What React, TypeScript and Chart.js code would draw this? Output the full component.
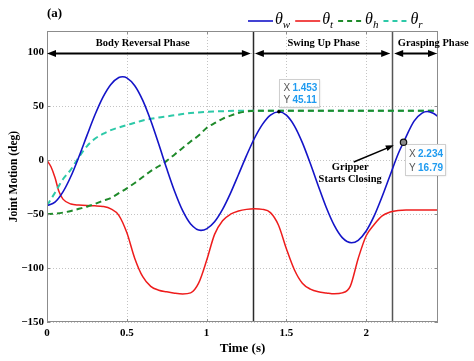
import { useEffect, useRef } from 'react';
import { Chart, registerables } from 'chart.js';

Chart.register(...registerables);

const SERIF = "'Liberation Serif', 'Times New Roman', serif";
const SANS = "'Liberation Sans', Arial, sans-serif";

// θw (blue)
const blueT = [0, 0.05, 0.1, 0.15, 0.2, 0.25, 0.3, 0.35, 0.4, 0.45, 0.474, 0.5, 0.55, 0.6, 0.65, 0.7, 0.75, 0.8, 0.85, 0.9, 0.965, 1.0, 1.05, 1.1, 1.15, 1.2, 1.25, 1.3, 1.35, 1.4, 1.453, 1.5, 1.55, 1.6, 1.65, 1.7, 1.75, 1.8, 1.85, 1.908, 1.95, 2.0, 2.05, 2.1, 2.15, 2.2, 2.234, 2.3, 2.35, 2.383, 2.42, 2.45];
const blueY = [-42, -38.8, -29.3, -14.8, 3.3, 22.9, 42, 58.4, 70.4, 76.8, 77.5, 76.5, 69.2, 55.6, 36.9, 15.1, -7.6, -28.9, -46.7, -59, -65, -63.6, -57, -45.5, -30.4, -13.1, 4.4, 20.5, 33.4, 42, 45.11, 41.9, 32, 16.4, -3, -23.8, -43.8, -60.4, -71.7, -76.5, -74.2, -65.6, -51.6, -33.6, -13.8, 5.9, 16.79, 36.4, 43.8, 45.3, 43.6, 40.6];

// θt (red)
const redT = [0, 0.025, 0.05, 0.075, 0.1, 0.15, 0.2, 0.25, 0.3, 0.35, 0.4, 0.45, 0.5, 0.55, 0.6, 0.65, 0.7, 0.75, 0.8, 0.85, 0.9, 0.95, 1.0, 1.05, 1.1, 1.15, 1.2, 1.25, 1.3, 1.35, 1.4, 1.45, 1.5, 1.55, 1.6, 1.65, 1.7, 1.75, 1.8, 1.85, 1.9, 1.95, 2.0, 2.05, 2.1, 2.15, 2.2, 2.25, 2.35, 2.45];
const redY = [0, -6, -16, -29, -36, -40.5, -41.5, -42, -42.2, -42.8, -45, -51, -67, -91, -108, -117, -120.5, -122, -123.3, -124, -123, -114, -93, -68.7, -56, -50, -47, -45.5, -45, -45.5, -48.5, -60, -82, -101.5, -114, -119.5, -122, -123, -123.8, -123, -117, -91, -70, -59.5, -51.5, -48, -46.5, -46, -46, -46];

// θh (green dashed)
const greenT = [0, 0.05, 0.1, 0.15, 0.2, 0.25, 0.3, 0.35, 0.4, 0.45, 0.5, 0.55, 0.6, 0.65, 0.7, 0.75, 0.8, 0.85, 0.9, 0.95, 1.0, 1.05, 1.1, 1.15, 1.2, 1.25, 1.3, 1.6, 2.0, 2.45];
const greenY = [-50, -49.5, -48.5, -47, -45, -43, -40.5, -37.5, -35, -30.5, -26, -21, -15.5, -10, -5.5, -0.5, 5.5, 11.5, 17.5, 23, 30, 34.5, 38.5, 41.5, 44, 45.3, 46, 46, 46, 46];

// θr (teal dashed)
const tealT = [0, 0.05, 0.1, 0.15, 0.2, 0.25, 0.3, 0.35, 0.4, 0.45, 0.5, 0.55, 0.6, 0.65, 0.7, 0.75, 0.8, 0.85, 0.9, 1.0, 1.1, 1.2, 1.6, 2.0, 2.45];
const tealY = [-42, -30, -17.5, -8.5, 3, 13, 20, 24.5, 28, 30.5, 32.7, 34.8, 37, 38.5, 39.8, 40.8, 41.8, 43, 43.9, 45, 45.6, 46, 46, 46, 46];

const seriesNames = ['w', 't', 'h', 'r'];
const seriesColors = ['#1414c8', '#ee1c1c', '#1f8a2a', '#2dc9a8'];

const xTicks = [0, 0.5, 1, 1.5, 2];
const yTicks = [-150, -100, -50, 0, 50, 100];

const phaseBounds = [0, 1.29, 2.163, 2.45];
const phaseLabels = ['Body Reversal Phase', 'Swing Up Phase', 'Grasping Phase'];
const phaseLabelX = [0.6, 1.733, 2.42];
const phaseArrowY = 100;

const tipX = [1.453, 2.234];
const tipY = [45.11, 16.79];

const gripperText = ['Gripper', 'Starts Closing'];
const gripperTextPos = [1.9, -6.5];
const gripperArrow = [1.922, -1.6, 2.173, 14];

const fmt = (v: number) => {
  const s = String(v);
  return v < 0 ? '\u2212' + s.slice(1) : s;
};

function arrowHead(ctx: CanvasRenderingContext2D, x: number, y: number, ang: number, len: number, half: number) {
  ctx.beginPath();
  ctx.moveTo(x, y);
  ctx.lineTo(x - len * Math.cos(ang) + half * Math.sin(ang), y - len * Math.sin(ang) - half * Math.cos(ang));
  ctx.lineTo(x - len * Math.cos(ang) - half * Math.sin(ang), y - len * Math.sin(ang) + half * Math.cos(ang));
  ctx.closePath();
  ctx.fill();
}

const annot = {
  id: 'annot',
  beforeDatasetsDraw(chart: any) {
    const { ctx, chartArea: a, scales } = chart;
    const x = scales.x;
    const y = scales.y;
    ctx.save();
    // dotted grid
    ctx.strokeStyle = '#c4c4c4';
    ctx.lineWidth = 1;
    ctx.setLineDash([1, 2]);
    ctx.beginPath();
    xTicks.forEach((v) => {
      const px = Math.round(x.getPixelForValue(v)) + 0.5;
      ctx.moveTo(px, a.top);
      ctx.lineTo(px, a.bottom);
    });
    yTicks.forEach((v) => {
      const py = Math.round(y.getPixelForValue(v)) + 0.5;
      ctx.moveTo(a.left, py);
      ctx.lineTo(a.right, py);
    });
    ctx.stroke();
    ctx.setLineDash([]);
    [1, 2].forEach((i, k) => {
      const px = Math.round(x.getPixelForValue(phaseBounds[i])) + 0.5;
      ctx.strokeStyle = k === 0 ? '#2a2a2a' : '#555';
      ctx.lineWidth = 1.5;
      ctx.beginPath();
      ctx.moveTo(px, a.top);
      ctx.lineTo(px, a.bottom);
      ctx.stroke();
    });
    ctx.restore();
  },
  afterDatasetsDraw(chart: any) {
    const { ctx, chartArea: a, scales } = chart;
    const x = scales.x;
    const y = scales.y;
    ctx.save();

    // frame
    ctx.strokeStyle = '#8c8c8c';
    ctx.lineWidth = 1;
    ctx.strokeRect(a.left + 0.5, a.top + 0.5, a.right - a.left - 1, a.bottom - a.top - 1);
    // inner ticks
    ctx.beginPath();
    xTicks.forEach((v) => {
      const px = Math.round(x.getPixelForValue(v)) + 0.5;
      ctx.moveTo(px, a.bottom);
      ctx.lineTo(px, a.bottom - 3);
      ctx.moveTo(px, a.top);
      ctx.lineTo(px, a.top + 3);
    });
    yTicks.forEach((v) => {
      const py = Math.round(y.getPixelForValue(v)) + 0.5;
      ctx.moveTo(a.left, py);
      ctx.lineTo(a.left + 3, py);
      ctx.moveTo(a.right, py);
      ctx.lineTo(a.right - 3, py);
    });
    ctx.stroke();

    // phase arrows
    const ay = Math.round(y.getPixelForValue(phaseArrowY)) + 0.5;
    ctx.strokeStyle = '#000';
    ctx.fillStyle = '#000';
    ctx.lineWidth = 1.8;
    for (let i = 0; i < 3; i++) {
      const x0 = x.getPixelForValue(phaseBounds[i]) + (i === 0 ? 0 : 2);
      const x1 = x.getPixelForValue(phaseBounds[i + 1]) - (i === 2 ? 1 : 2);
      ctx.beginPath();
      ctx.moveTo(x0 + 4, ay);
      ctx.lineTo(x1 - 4, ay);
      ctx.stroke();
      arrowHead(ctx, x0, ay, Math.PI, 9, 3.5);
      arrowHead(ctx, x1, ay, 0, 9, 3.5);
    }
    ctx.font = `bold 10.5px ${SERIF}`;
    ctx.textAlign = 'center';
    ctx.textBaseline = 'middle';
    phaseLabels.forEach((t, i) => {
      ctx.fillText(t, x.getPixelForValue(phaseLabelX[i]), ay - 10);
    });

    // gripper annotation
    const gx = x.getPixelForValue(gripperTextPos[0]);
    const gy = y.getPixelForValue(gripperTextPos[1]);
    ctx.fillText(gripperText[0], gx, gy);
    ctx.fillText(gripperText[1], gx, gy + 11.5);
    const ax0 = x.getPixelForValue(gripperArrow[0]);
    const ay0 = y.getPixelForValue(gripperArrow[1]);
    const ax1 = x.getPixelForValue(gripperArrow[2]);
    const ay1 = y.getPixelForValue(gripperArrow[3]);
    const ang = Math.atan2(ay1 - ay0, ax1 - ax0);
    ctx.lineWidth = 1.5;
    ctx.beginPath();
    ctx.moveTo(ax0, ay0);
    ctx.lineTo(ax1 - 6 * Math.cos(ang), ay1 - 6 * Math.sin(ang));
    ctx.stroke();
    arrowHead(ctx, ax1, ay1, ang, 8, 3);

    // datatips
    tipX.forEach((tx, i) => {
      const px = x.getPixelForValue(tx);
      const py = y.getPixelForValue(tipY[i]);
      const bx = px + (i === 0 ? 0.5 : 1.5);
      const by = i === 0 ? py - 33 : py + 2;
      const bw = 40;
      const bh = i === 0 ? 28 : 31;
      ctx.save();
      ctx.shadowColor = 'rgba(0,0,0,0.15)';
      ctx.shadowBlur = 2;
      ctx.shadowOffsetX = 1;
      ctx.shadowOffsetY = 1;
      ctx.fillStyle = 'rgba(255,255,255,0.95)';
      ctx.fillRect(bx, by, bw, bh);
      ctx.restore();
      ctx.strokeStyle = '#cfcfcf';
      ctx.lineWidth = 1;
      ctx.strokeRect(Math.round(bx) + 0.5, Math.round(by) + 0.5, bw, bh);
      ctx.textAlign = 'left';
      ctx.textBaseline = 'middle';
      const l1 = by + bh * 0.33;
      const l2 = by + bh * 0.77;
      ctx.font = `10px ${SANS}`;
      ctx.fillStyle = '#555';
      ctx.fillText('X', bx + 4, l1);
      ctx.fillText('Y', bx + 4, l2);
      ctx.font = `bold 10px ${SANS}`;
      ctx.fillStyle = '#1f9bf0';
      ctx.fillText(tx.toFixed(3), bx + 13, l1);
      ctx.fillText(tipY[i].toFixed(2), bx + 13, l2);
      // marker
      ctx.beginPath();
      if (i === 0) {
        ctx.fillStyle = '#000';
        ctx.arc(px, py, 1.8, 0, Math.PI * 2);
        ctx.fill();
      } else {
        ctx.fillStyle = '#8a8a8a';
        ctx.strokeStyle = '#111';
        ctx.lineWidth = 1.2;
        ctx.arc(px, py, 3.2, 0, Math.PI * 2);
        ctx.fill();
        ctx.stroke();
      }
    });

    // legend
    let lx = 248;
    const ly = 21;
    seriesNames.forEach((n, i) => {
      ctx.strokeStyle = seriesColors[i];
      ctx.lineWidth = i >= 2 ? 2 : 1.6;
      ctx.setLineDash(i >= 2 ? [5, 4] : []);
      ctx.beginPath();
      ctx.moveTo(lx, ly);
      ctx.lineTo(lx + 25, ly);
      ctx.stroke();
      ctx.setLineDash([]);
      lx += 27;
      ctx.fillStyle = '#000';
      ctx.textAlign = 'left';
      ctx.textBaseline = 'middle';
      ctx.font = `italic 16px ${SERIF}`;
      ctx.fillText('\u03b8', lx, ly - 1);
      lx += ctx.measureText('\u03b8').width;
      ctx.font = `italic 11px ${SERIF}`;
      ctx.fillText(n, lx, ly + 4);
      lx += ctx.measureText(n).width + 5;
    });

    // panel label
    ctx.fillStyle = '#000';
    ctx.font = `bold 13px ${SERIF}`;
    ctx.textAlign = 'left';
    ctx.textBaseline = 'middle';
    ctx.fillText('(a)', a.left, 14);

    ctx.restore();
  },
};

export default function App() {
  const ref = useRef<HTMLCanvasElement | null>(null);
  useEffect(() => {
    if (!ref.current) return;
    const mk = (t: number[], v: number[]) => t.map((tt, i) => ({ x: tt, y: v[i] }));
    const chart = new Chart(ref.current, {
      type: 'line',
      data: {
        datasets: [
          { label: '\u03b8w', data: mk(blueT, blueY), borderColor: seriesColors[0], borderWidth: 1.6, order: 0 },
          { label: '\u03b8h', data: mk(greenT, greenY), borderColor: seriesColors[2], borderWidth: 2, borderDash: [6, 4], order: 1 },
          { label: '\u03b8r', data: mk(tealT, tealY), borderColor: seriesColors[3], borderWidth: 2, borderDash: [6, 4], order: 2 },
          { label: '\u03b8t', data: mk(redT, redY), borderColor: seriesColors[1], borderWidth: 1.5, order: 3 },
        ] as any,
      },
      options: {
        animation: false,
        responsive: false,
        layout: { padding: { left: 0, right: 36, top: 31, bottom: 0 } },
        elements: { point: { radius: 0, hoverRadius: 0 }, line: { cubicInterpolationMode: 'monotone', fill: false } },
        plugins: { legend: { display: false }, tooltip: { enabled: false }, title: { display: false } },
        events: [],
        scales: {
          x: {
            type: 'linear',
            min: 0,
            max: 2.45,
            afterBuildTicks: (s: any) => {
              s.ticks = xTicks.map((v) => ({ value: v }));
            },
            afterFit: (s: any) => {
              s.height = 39;
            },
            grid: { display: false, drawTicks: false },
            border: { display: false },
            ticks: {
              padding: 5,
              color: '#000',
              font: { family: SERIF, size: 11, weight: 'bold' },
              callback: (v: any) => fmt(Number(v)),
            },
            title: {
              display: true,
              text: 'Time (s)',
              color: '#000',
              font: { family: SERIF, size: 13, weight: 'bold' },
              padding: { top: 0, bottom: 5 },
            },
          },
          y: {
            type: 'linear',
            min: -150,
            max: 120,
            afterBuildTicks: (s: any) => {
              s.ticks = yTicks.map((v) => ({ value: v }));
            },
            afterFit: (s: any) => {
              s.width = 47;
            },
            grid: { display: false, drawTicks: false },
            border: { display: false },
            ticks: {
              padding: 3,
              color: '#000',
              font: { family: SERIF, size: 11, weight: 'bold' },
              callback: (v: any) => fmt(Number(v)),
            },
            title: {
              display: true,
              text: 'Joint Motion (deg)',
              color: '#000',
              font: { family: SERIF, size: 11.5, weight: 'bold' },
              padding: { top: 7, bottom: 0 },
            },
          },
        },
      } as any,
      plugins: [annot],
    });
    return () => chart.destroy();
  }, []);
  return (
    <div style={{ position: 'fixed', left: 0, top: 0, width: 474, height: 361, background: '#fff' }}>
      <canvas ref={ref} width={474} height={361} style={{ width: 474, height: 361, display: 'block' }} />
    </div>
  );
}
